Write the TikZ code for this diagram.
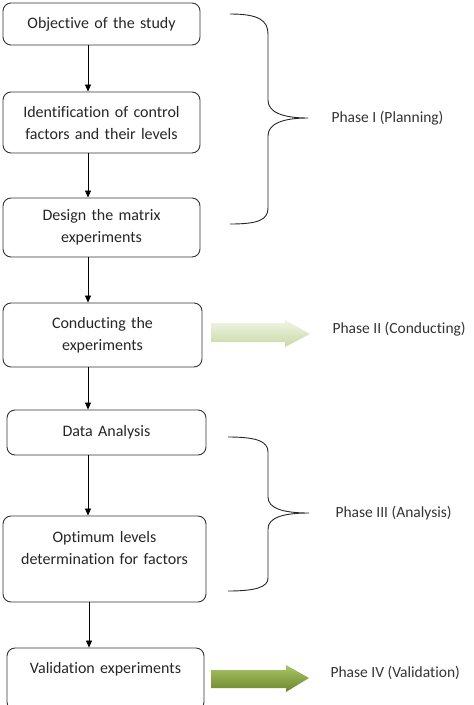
\documentclass[tikz,border=0pt]{standalone}
\usepackage{fontspec}
\setmainfont{Carlito}[Ligatures=NoCommon]
\usepackage{xcolor}
\usetikzlibrary{arrows.meta}
\usetikzlibrary{positioning}

\definecolor{paletop}{HTML}{F0F5E4}
\definecolor{palebot}{HTML}{C9D8A6}
\definecolor{olivetop}{HTML}{A9C667}
\definecolor{olivebot}{HTML}{6B862C}

\begin{document}
\begin{tikzpicture} [
       x=1pt, y=-1pt,
       stepbox/.style={draw=black!80, line width=0.9pt, rounded corners=8pt,
               minimum width=197pt, text width=195pt, align=center,
               font=\fontsize{16}{22}\selectfont, text=black!85, inner sep=0pt},
       phase/.style={anchor=west, font=\fontsize{15.5}{18}\selectfont, text=black!80},
       line/.style={draw, line width=0.8pt, -{Triangle[length=7pt,width=6pt]}},
       brace/.style={draw=black!85, line width=0.9pt},
       ]
       \useasboundingbox (0,0) rectangle (474,705);
       \node (obj) [stepbox, minimum height=42pt] at (101.5,24) {Objective of the study};
       \node (ident) [stepbox, minimum height=61pt] at (101.5,122.5) {Identification of control\\factors and their levels};
       \node (design) [stepbox, minimum height=59pt] at (101.5,227.5) {Design the matrix\\experiments};
       \node (cond) [stepbox, minimum height=64pt, minimum width=199pt] at (102.5,335) {Conducting the\\experiments};
       \node (data) [stepbox, minimum height=45pt, minimum width=199pt] at (106.5,432.5) {Data Analysis};
       \node (optim) [stepbox, minimum height=86pt, minimum width=203pt] at (104.5,559) {Optimum levels\\determination for factors\\\mbox{}};
       \node (valid) [stepbox, minimum height=62pt] at (105.5,679) {Validation experiments\\\mbox{}};
        \begin{scope}[every path/.style=line]
        \path (obj.south -| 88,0) -- (ident.north -| 88,0);
        \path (ident.south -| 88,0) -- (design.north -| 88,0);
        \path (design.south -| 88,0) -- (cond.north -| 88,0);
        \path (cond.south -| 88,0) -- (data.north -| 88,0);
        \path (data.south -| 88,0) -- (optim.north -| 88,0);
        \path (optim.south -| 89,0) -- (valid.north -| 89,0);
        \end{scope}
       % braces
       \path[brace] (230,14) .. controls (258,14) and (268,20) .. (268,34) -- (268,100)
           .. controls (268,112) and (282,118) .. (308,118)
           .. controls (282,118) and (268,124) .. (268,136) -- (268,208)
           .. controls (268,220) and (258,224) .. (230,224);
       \path[brace] (228,437) .. controls (256,437) and (268,441) .. (268,452) -- (268,497)
           .. controls (268,508) and (282,513) .. (309,513)
           .. controls (282,513) and (268,518) .. (268,529) -- (268,578)
           .. controls (268,587) and (256,591) .. (228,591);
       % phase arrows
       \shade[top color=paletop, bottom color=palebot]
           (211,323) -- (285,323) -- (285,320) -- (310,334) -- (285,347) -- (285,342) -- (211,342) -- cycle;
       \shade[top color=olivetop, bottom color=olivebot]
           (211,670) -- (286,670) -- (286,665) -- (309,678) -- (286,692) -- (286,688) -- (211,688) -- cycle;
       \node (planning) [phase] at (328,118) {Phase I (Planning)};
       \node (conducting) [phase] at (329,329) {Phase II (Conducting)};
       \node (analysis) [phase] at (332,513) {Phase III (Analysis)};
       \node (validation) [phase] at (327,673) {Phase IV (Validation)};
\end{tikzpicture}
\end{document}
